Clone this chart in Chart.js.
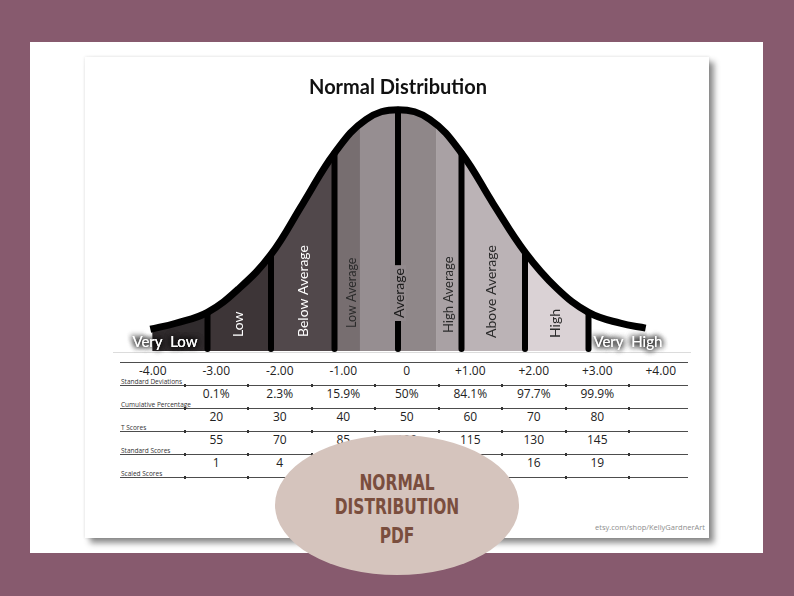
<!DOCTYPE html>
<html>
<head>
<meta charset="utf-8">
<script src="https://cdn.jsdelivr.net/npm/chart.js@4.4.1/dist/chart.umd.min.js"></script>
<style>
  body { margin: 0; width: 794px; height: 596px; background: #875a6e; position: relative; overflow: hidden; font-family: "Open Sans", sans-serif; }
  .abs { position: absolute; }
  #card { left: 30px; top: 42px; width: 733px; height: 511px; background: #fff; }
  #paper { left: 85px; top: 57px; width: 624px; height: 481px; background: #fff; box-shadow: 5px 5px 6px rgba(0,0,0,0.45), 0 0 3px rgba(0,0,0,0.12); }
  #chartBox { left: 85px; top: 57px; width: 625px; height: 300px; }
  .cell { position: absolute; width: 62px; text-align: center; font-size: 12px; line-height: 16px; color: #222; }
  .rowName { position: absolute; font-size: 6.5px; line-height: 8px; color: #333; white-space: nowrap; }
  .rule { position: absolute; height: 0; border-top: 1.5px solid #4d4d4d; }
  .tick { position: absolute; width: 2px; height: 3px; background: #333; }
  #oval { left: 275px; top: 435px; width: 244px; height: 140px; border-radius: 50%; background: #d5c4bd; }
  .ovalText { position: absolute; left: 275px; width: 244px; text-align: center; color: #7a4e3e; font-family: "DejaVu Sans Condensed", "Liberation Sans Narrow", sans-serif; font-stretch: condensed; font-weight: bold; font-size: 22px; line-height: 24px; transform: scaleX(0.78); }
  #etsy { left: 560px; top: 522px; width: 145px; text-align: right; font-size: 7.5px; color: #8e8e8e; }
</style>
</head>
<body>
<div id="card" class="abs"></div>
<div id="paper" class="abs"></div>
<div class="abs" style="left:113px; top:352px; width:578px; height:1px; background:#dcdcdc;"></div>
<div id="chartBox" class="abs"><canvas id="normalChart" width="625" height="300"></canvas></div>
<div id="table"></div>
<div id="oval" class="abs"></div>
<div class="ovalText" style="top:471px;">NORMAL</div>
<div class="ovalText" style="top:495px;">DISTRIBUTION</div>
<div class="ovalText" style="top:524px;">PDF</div>
<div id="etsy" class="abs">etsy.com/shop/KellyGardnerArt</div>

<script>
// curve (height as % of the peak)
const curveX = [-3.9, -3.5, -3, -2.5, -2, -1.5, -1, -0.5, 0, 0.5, 1, 1.5, 2, 2.5, 3, 3.5, 3.9];
const curveY = [9, 11.5, 16, 26, 40, 61, 82, 96, 100, 96, 82, 61, 41, 26, 16, 11.5, 9.5];

// shaded zones under the curve
const bandEdges = [-3.9, -3, -2, -1, -0.6, 0, 0.6, 1, 2, 3, 3.9];
const bandColors = ['#302b2d', '#3d3537', '#51484b', '#776e70', '#968e91', '#8f8789', '#a9a1a4', '#bbb3b6', '#dad2d5', '#ffffff'];

const sdLines = [-3, -2, -1, 0, 1, 2, 3];
const zoneLabels = ['Very Low', 'Low', 'Below Average', 'Low Average', 'Average', 'High Average', 'Above Average', 'High', 'Very High'];

// table rows
const rowNames = ['Standard Deviations', 'Cumulative Percentage', 'T Scores', 'Standard Scores', 'Scaled Scores'];
const sdLabels = ['-4.00', '-3.00', '-2.00', '-1.00', '0', '+1.00', '+2.00', '+3.00', '+4.00'];
const cumulativePct = ['', '0.1%', '2.3%', '15.9%', '50%', '84.1%', '97.7%', '99.9%', ''];
const tScores = ['', '20', '30', '40', '50', '60', '70', '80', ''];
const standardScores = ['', '55', '70', '85', '100', '115', '130', '145', ''];
const scaledScores = ['', '1', '4', '7', '10', '13', '16', '19', ''];

// label placement: x in SD units, lift = px above baseline, rot = vertical text
const labelLayout = [
  { x: -3.67, lift: 9, size: 15, color: '#fff', rot: false },
  { x: -2.52, lift: 14, size: 14, color: '#fff', rot: true },
  { x: -1.5, lift: 14, size: 14, color: '#fff', rot: true },
  { x: -0.74, lift: 23, size: 12.5, color: '#2a2a2a', rot: true },
  { x: 0, lift: 33, size: 14, color: '#1a1a1a', rot: true, patch: '#938b8e' },
  { x: 0.79, lift: 18, size: 13, color: '#2a2a2a', rot: true },
  { x: 1.45, lift: 13, size: 14, color: '#2a2a2a', rot: true },
  { x: 2.47, lift: 13, size: 14, color: '#2a2a2a', rot: true },
  { x: 3.62, lift: 9, size: 15, color: '#fff', rot: false }
];

const zonesPlugin = {
  id: 'zones',
  beforeDatasetsDraw(chart) {
    const { ctx, chartArea, scales: { x, y } } = chart;
    const base = y.getPixelForValue(0);
    ctx.save();
    for (let i = 0; i < bandColors.length; i++) {
      let x0 = x.getPixelForValue(bandEdges[i]);
      const x1 = x.getPixelForValue(bandEdges[i + 1]);
      if (i === 0) x0 += 2;
      ctx.fillStyle = bandColors[i];
      ctx.fillRect(x0, chartArea.top, x1 - x0 + 0.5, base - chartArea.top);
    }
    ctx.restore();
  },
  afterDatasetsDraw(chart) {
    const { ctx, scales: { x, y } } = chart;
    const base = y.getPixelForValue(0);
    ctx.save();
    ctx.strokeStyle = '#000';
    ctx.lineWidth = 6;
    ctx.lineCap = 'round';
    sdLines.forEach(v => {
      const px = x.getPixelForValue(v);
      const top = y.getPixelForValue(curveY[curveX.indexOf(v)]);
      ctx.beginPath();
      ctx.moveTo(px, base - 2);
      ctx.lineTo(px, top);
      ctx.stroke();
    });
    zoneLabels.forEach((txt, i) => {
      const L = labelLayout[i];
      const px = x.getPixelForValue(L.x);
      ctx.font = L.size + 'px Lato, sans-serif';
      const w = ctx.measureText(txt).width;
      ctx.save();
      ctx.translate(px, base - L.lift);
      if (L.rot) {
        ctx.rotate(-Math.PI / 2);
        if (L.patch) {
          ctx.fillStyle = L.patch;
          ctx.fillRect(-3, -8, w + 6, 16);
        }
        ctx.fillStyle = L.color;
        ctx.textAlign = 'left';
        ctx.textBaseline = 'middle';
        ctx.fillText(txt, 0, 1);
      } else {
        ctx.textAlign = 'center';
        ctx.textBaseline = 'middle';
        ctx.fillStyle = L.color;
        ctx.shadowColor = 'rgba(0,0,0,1)';
        ctx.shadowBlur = 6;
        for (let k = 0; k < 3; k++) ctx.fillText(txt.replace(' ', '  '), 0, 0);
      }
      ctx.restore();
    });
    ctx.restore();
  }
};

new Chart(document.getElementById('normalChart'), {
  type: 'line',
  data: {
    datasets: [{
      data: curveX.map((v, i) => ({ x: v, y: curveY[i] })),
      borderColor: '#000',
      borderWidth: 7,
      backgroundColor: '#fff',
      fill: 'end',
      pointRadius: 0,
      tension: 0.4
    }]
  },
  options: {
    responsive: false,
    animation: false,
    layout: { padding: { left: 59, right: 58, top: 0, bottom: 6 } },
    scales: {
      x: { type: 'linear', min: -4, max: 4, display: false },
      y: { min: 0, max: 104, display: false }
    },
    plugins: {
      legend: { display: false },
      tooltip: { enabled: false },
      title: {
        display: true,
        text: 'Normal Distribution',
        color: '#111',
        font: { family: 'Lato', size: 20, weight: 'bold' },
        padding: { top: 19, bottom: 0 }
      }
    }
  },
  plugins: [zonesPlugin]
});

// table under the curve
const table = document.getElementById('table');
const rows = [sdLabels, cumulativePct, tScores, standardScores, scaledScores];
const colLeft = 121, colW = 63.5, topY = 362, rowH = 23;
function add(cls, style, text) {
  const d = document.createElement('div');
  d.className = cls;
  Object.assign(d.style, style);
  if (text !== undefined) d.textContent = text;
  table.appendChild(d);
}
for (let r = 0; r <= rows.length; r++) {
  const ly = topY + r * rowH;
  add('rule', { left: '120px', top: ly + 'px', width: '568px' });
  if (r > 0) {
    for (let c = 1; c < 9; c++) {
      add('tick', { left: (colLeft + c * colW - 1) + 'px', top: (ly - 1) + 'px' });
    }
  }
}
rows.forEach((vals, r) => {
  const ly = topY + r * rowH;
  vals.forEach((v, c) => {
    if (!v) return;
    add('cell', { left: (colLeft + c * colW + colW / 2 - 31) + 'px', top: (ly + 1) + 'px' }, v);
  });
  add('rowName', { left: '121px', top: (ly + 16) + 'px' }, rowNames[r]);
});
</script>
</body>
</html>
